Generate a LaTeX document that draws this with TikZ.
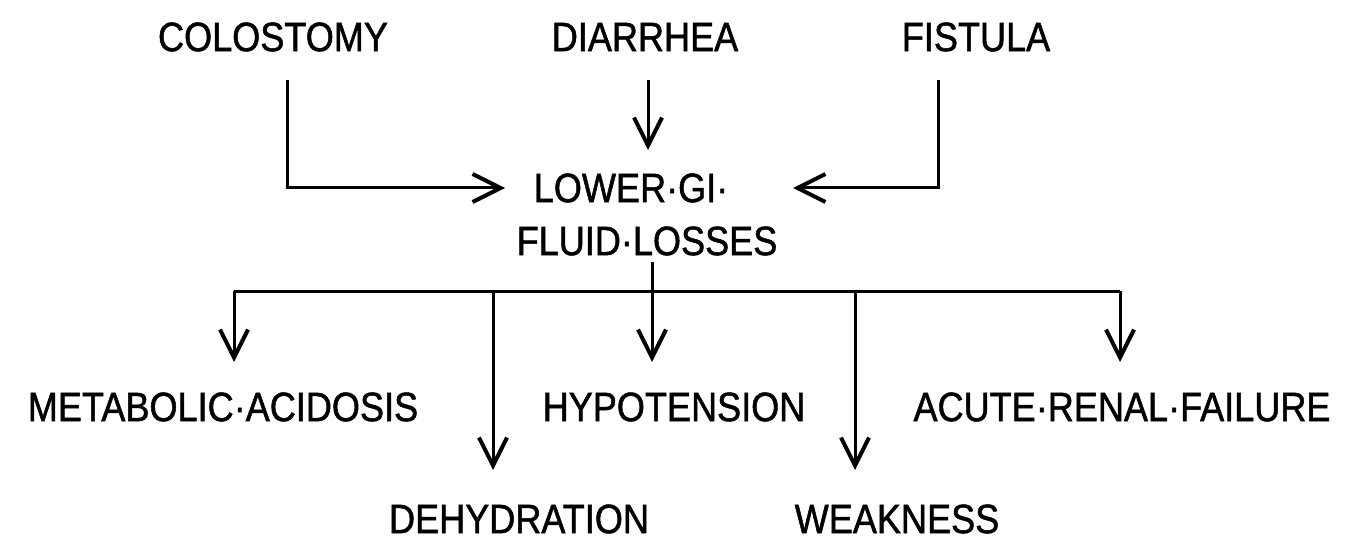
\documentclass[tikz,border=0pt]{standalone}
\usepackage{fontspec}
\setmainfont{Liberation Sans}[FakeStretch=0.88,FakeBold=1.2]
\usetikzlibrary{arrows.meta}
\begin{document}
\begin{tikzpicture}[x=1pt,y=-1pt,
  lbl/.style={inner sep=0pt,font=\fontsize{41}{48}\selectfont},
  arr/.style={line width=3pt,-{Straight Barb[length=28pt,width=28pt,line width=4pt]}},
  ln/.style={line width=3pt}]
\useasboundingbox (0,0) rectangle (1357,556);
\node[lbl] (colostomy) at (273,37) {COLOSTOMY};
\node[lbl] (diarrhea) at (645,37) {DIARRHEA};
\node[lbl] (fistula) at (976,37) {FISTULA};
\node[lbl] (lowergi) at (631,188) {LOWER·GI·};
\node[lbl] (fluid) at (647,241) {FLUID·LOSSES};
\node[lbl] (metab) at (223,407) {METABOLIC·ACIDOSIS};
\node[lbl] (hypo) at (674,407) {HYPOTENSION};
\node[lbl] (arf) at (1122,407) {ACUTE·RENAL·FAILURE};
\node[lbl] (dehyd) at (519,519) {DEHYDRATION};
\node[lbl] (weak) at (897,519) {WEAKNESS};
% top connectors
\coordinate (c1) at (287,80);
\coordinate (c1e) at (505,188);
\coordinate (d1) at (648,80);
\coordinate (d1e) at (648,150);
\coordinate (f1) at (938,80);
\coordinate (f1e) at (793,188);
\draw[arr] (c1) |- (c1e);
\draw[arr] (d1) -- (d1e);
\draw[arr] (f1) |- (f1e);
% bottom bus
\coordinate (s) at (652,262);
\coordinate (busL) at (234,291);
\coordinate (busR) at (1120,291);
\draw[ln] (busL) -- (busR);
\draw[arr] (s) -- (652,362);
\draw[arr] (busL) -- (234,362);
\draw[arr] (493,291) -- (493,470);
\draw[arr] (855,291) -- (855,470);
\draw[arr] (busR) -- (1120,362);
\end{tikzpicture}
\end{document}
